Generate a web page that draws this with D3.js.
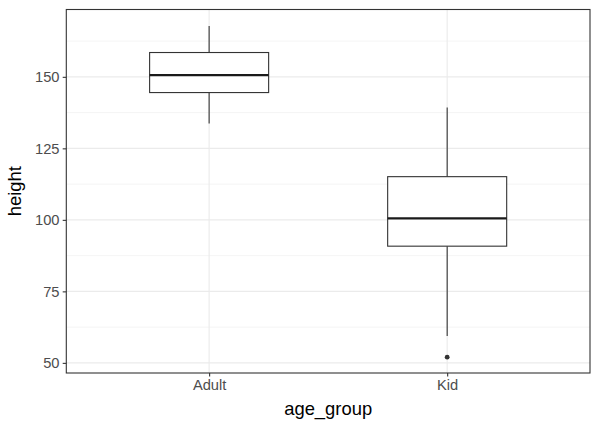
<!DOCTYPE html>
<html><head><meta charset="utf-8">
<script src="https://cdn.jsdelivr.net/npm/d3@7"></script>
<style>body{margin:0;background:#fff}svg{display:block}</style>
</head><body>
<script>
const categories = ["Adult", "Kid"];
const whiskerLow = [133.7, 59.4];
const q1 = [144.5, 90.8];
const median = [150.6, 100.5];
const q3 = [158.5, 115.1];
const whiskerHigh = [167.8, 139.3];
const outliers = [[], [52.0]];
const yTicks = [50, 75, 100, 125, 150];
const yMinor = [62.5, 87.5, 112.5, 137.5, 162.5];

const W = 600, H = 429;
const pLeft = 66.3, pRight = 590, pTop = 9.5, pBottom = 373;
const svg = d3.select("body").append("svg").attr("width", W).attr("height", H);
const font = "'Liberation Sans', Arial, Helvetica, sans-serif";

const y = d3.scaleLinear().domain([46.46, 173.54]).range([pBottom, pTop]);
const x = d3.scalePoint().domain(categories).range([pLeft, pRight]).padding(0.6);
const step = x.step();
const boxW = step * 0.5;

svg.append("rect").attr("x", pLeft).attr("y", pTop).attr("width", pRight-pLeft).attr("height", pBottom-pTop).attr("fill", "#fff");
const g = svg.append("g");
g.selectAll("line.minor").data(yMinor).join("line").attr("class","minor")
  .attr("x1", pLeft).attr("x2", pRight).attr("y1", d=>y(d)).attr("y2", d=>y(d))
  .attr("stroke", "#ebebeb").attr("stroke-width", 0.55);
g.selectAll("line.major").data(yTicks).join("line").attr("class","major")
  .attr("x1", pLeft).attr("x2", pRight).attr("y1", d=>y(d)).attr("y2", d=>y(d))
  .attr("stroke", "#ebebeb").attr("stroke-width", 1.1);
g.selectAll("line.vmajor").data(categories).join("line").attr("class","vmajor")
  .attr("x1", d=>x(d)).attr("x2", d=>x(d)).attr("y1", pTop).attr("y2", pBottom)
  .attr("stroke", "#ebebeb").attr("stroke-width", 1.1);

const col = "#333333";
const boxes = svg.append("g").selectAll("g").data(categories).join("g");
boxes.append("line").attr("x1", d=>x(d)).attr("x2", d=>x(d))
  .attr("y1", (d,i)=>y(whiskerHigh[i])).attr("y2", (d,i)=>y(q3[i]))
  .attr("stroke", col).attr("stroke-width", 1.1);
boxes.append("line").attr("x1", d=>x(d)).attr("x2", d=>x(d))
  .attr("y1", (d,i)=>y(q1[i])).attr("y2", (d,i)=>y(whiskerLow[i]))
  .attr("stroke", col).attr("stroke-width", 1.1);
boxes.append("rect").attr("x", d=>x(d)-boxW/2).attr("width", boxW)
  .attr("y", (d,i)=>y(q3[i])).attr("height", (d,i)=>y(q1[i])-y(q3[i]))
  .attr("fill", "#fff").attr("stroke", col).attr("stroke-width", 1.1);
boxes.append("line").attr("x1", d=>x(d)-boxW/2).attr("x2", d=>x(d)+boxW/2)
  .attr("y1", (d,i)=>y(median[i])).attr("y2", (d,i)=>y(median[i]))
  .attr("stroke", "#1a1a1a").attr("stroke-width", 2.2);
boxes.each(function(d,i){
  d3.select(this).selectAll("circle").data(outliers[i]).join("circle")
    .attr("cx", x(d)).attr("cy", v=>y(v)).attr("r", 2.4).attr("fill", col);
});

svg.append("rect").attr("x", pLeft).attr("y", pTop).attr("width", pRight-pLeft).attr("height", pBottom-pTop)
  .attr("fill", "none").attr("stroke", col).attr("stroke-width", 1.1);

const ya = svg.append("g").attr("transform", `translate(${pLeft},0)`)
  .call(d3.axisLeft(y).tickValues(yTicks).tickSize(3.6).tickPadding(3.2));
const xa = svg.append("g").attr("transform", `translate(0,${pBottom})`)
  .call(d3.axisBottom(x).tickSize(3.6).tickPadding(3.2));
[ya, xa].forEach(a => {
  a.select(".domain").remove();
  a.selectAll(".tick line").attr("stroke", col).attr("stroke-width", 1.1);
  a.selectAll(".tick text").attr("fill", "#4d4d4d").style("font-family", font).style("font-size", "14.7px");
});

svg.append("text").attr("x", (pLeft+pRight)/2).attr("y", 415).attr("text-anchor", "middle")
  .style("font-family", font).style("font-size", "18.4px").attr("fill", "#000").text("age_group");
svg.append("text").attr("transform", `translate(21,${(pTop+pBottom)/2}) rotate(-90)`).attr("text-anchor", "middle")
  .style("font-family", font).style("font-size", "18.4px").attr("fill", "#000").text("height");
</script>
</body></html>
